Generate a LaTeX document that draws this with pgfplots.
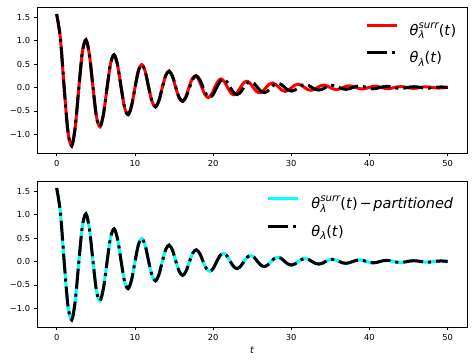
\documentclass[border=0pt]{standalone}
\usepackage{fontspec}
\setmainfont{DejaVu Sans}
\usepackage{pgfplots}
\usepackage{pgfplotstable}
\pgfplotsset{compat=1.18}
\definecolor{aqua}{RGB}{0,255,255}
\definecolor{pured}{RGB}{255,0,0}

\pgfplotstableread{
t y
0 1.571
0.48 1.049
0.96 0
1.44 -0.936
1.92 -1.25
2.38 -0.840
2.84 0
3.29 0.759
3.75 1.02
4.20 0.687
4.65 0
5.09 -0.623
5.54 -0.84
5.99 -0.567
6.45 0
6.90 0.518
7.35 0.70
7.80 0.472
8.25 0
8.69 -0.430
9.14 -0.58
9.58 -0.393
10.02 0
10.46 0.361
10.9 0.49
11.34 0.332
11.77 0
12.21 -0.305
12.64 -0.414
13.08 -0.281
13.51 0
13.95 0.258
14.38 0.350
14.82 0.237
15.25 0
15.69 -0.218
16.12 -0.296
16.56 -0.201
16.99 0
17.43 0.184
17.86 0.250
18.30 0.170
18.73 0
19.17 -0.156
19.6 -0.211
20.04 -0.143
20.47 0
20.91 0.131
21.34 0.178
21.78 0.121
22.21 0
22.65 -0.111
23.08 -0.151
23.52 -0.102
23.95 0
24.39 0.094
24.82 0.127
25.26 0.086
25.69 0
26.13 -0.079
26.56 -0.108
27.00 -0.073
27.43 0
27.87 0.067
28.3 0.091
28.74 0.062
29.17 0
29.61 -0.057
30.04 -0.077
30.48 -0.052
30.91 0
31.35 0.048
31.78 0.065
32.22 0.044
32.65 0
33.09 -0.040
33.52 -0.055
33.96 -0.037
34.39 0
34.83 0.034
35.26 0.046
35.70 0.031
36.13 0
36.57 -0.029
37.0 -0.039
37.44 -0.026
37.87 0
38.31 0.024
38.74 0.033
39.18 0.022
39.61 0
40.05 -0.021
40.48 -0.028
40.92 -0.019
41.35 0
41.79 0.017
42.22 0.024
42.66 0.016
43.09 0
43.53 -0.015
43.96 -0.020
44.40 -0.014
44.83 0
45.27 0.012
45.7 0.017
46.14 0.012
46.57 0
47.01 -0.011
47.44 -0.014
47.88 -0.009
48.31 0
48.75 0.009
49.18 0.012
49.62 0.008
50.0 0.001
}\truedata

\pgfplotstableread{
t y
0 1.571
0.48 1.049
0.96 0
1.44 -0.936
1.92 -1.25
2.38 -0.840
2.84 0
3.29 0.759
3.75 1.02
4.20 0.687
4.65 0
5.09 -0.623
5.54 -0.84
5.99 -0.567
6.45 0
6.90 0.518
7.35 0.70
7.80 0.472
8.25 0
8.69 -0.430
9.14 -0.58
9.58 -0.393
10.02 0
10.46 0.361
10.9 0.49
11.34 0.332
11.77 0
12.21 -0.305
12.64 -0.414
13.08 -0.281
13.51 0
13.95 0.258
14.38 0.350
14.805 0.238
15.23 0
15.655 -0.219
16.08 -0.296
16.50 -0.201
16.915 0
17.33 0.185
17.75 0.251
18.16 0.170
18.575 0
18.99 -0.157
19.40 -0.214
19.81 -0.145
20.22 0
20.63 0.134
21.04 0.183
21.45 0.124
21.86 0
22.27 -0.115
22.68 -0.156
23.09 -0.106
23.50 0
23.91 0.098
24.32 0.133
24.73 0.090
25.14 0
25.55 -0.083
25.96 -0.113
26.37 -0.077
26.78 0
27.19 0.071
27.60 0.097
28.01 0.066
28.42 0
28.83 -0.061
29.24 -0.083
29.65 -0.056
30.06 0
30.47 0.052
30.88 0.070
31.29 0.048
31.70 0
32.11 -0.044
32.52 -0.060
32.93 -0.041
33.34 0
33.75 0.038
34.16 0.051
34.57 0.035
34.98 0
35.39 -0.032
35.80 -0.044
36.21 -0.030
36.62 0
37.03 0.028
37.44 0.037
37.85 0.025
38.26 0
38.67 -0.023
39.08 -0.032
39.49 -0.022
39.90 0
40.31 0.020
40.72 0.027
41.13 0.018
41.54 0
41.95 -0.017
42.36 -0.023
42.77 -0.016
43.18 0
43.59 0.014
44.00 0.020
44.41 0.014
44.82 0
45.23 -0.013
45.64 -0.017
46.05 -0.012
46.46 0
46.87 0.011
47.28 0.015
47.69 0.010
48.10 0
48.51 -0.009
48.92 -0.012
49.33 -0.008
49.74 0
50.0 0.005
}\surrdata

\newcommand\scr{\fontsize{10.2}{10.2}\selectfont\itshape}
\newcommand\thsurr{\textit{θ}\makebox[0pt][l]{\raisebox{-0.25em}{\scr λ}}\raisebox{0.48em}{\scr surr}(\textit{t})}
\newcommand\thtrue{\textit{θ}\raisebox{-0.25em}{\scr λ}(\textit{t})}

\pgfplotsset{myax/.style={
  scale only axis, width=430.1pt, height=145.6pt,
  xmin=-2.5, xmax=52.5, ymin=-1.4, ymax=1.7125,
  xtick={0,10,20,30,40,50}, xticklabels={0,10,20,30,40,50},
  ytick={-1,-0.5,0,0.5,1,1.5}, yticklabels={−1.0,−0.5,0.0,0.5,1.0,1.5},
  tick align=outside, tick pos=left, major tick length=3.5pt,
  tick style={black, line width=0.7pt},
  axis line style={line width=0.8pt, black},
  ticklabel style={font=\fontsize{8.3}{10}\selectfont},
  legend cell align=left,
  legend image code/.code={\draw[##1] (0pt,6.5pt) -- (30pt,6.5pt); \path (41.7pt,0pt);},
  legend style={draw=none, fill=none, inner sep=0pt, outer sep=0pt,
    font=\fontsize{14.5}{16}\selectfont, row sep=12pt,
    nodes={inner sep=0pt, outer sep=0pt, text height=11pt, text depth=4pt},
    anchor=north west},
}}

\begin{document}
\begin{tikzpicture}
\useasboundingbox (0,0) rectangle (474pt,364pt);
\begin{axis}[myax, at={(37.1pt,211pt)}, anchor=south west,
  legend style={at={(rel axis cs:0.7624,0.887)}}]
\addplot[pured, line width=3pt, smooth] table {\surrdata};
\addplot[black, line width=3pt, smooth, line cap=butt, dash pattern=on 20pt off 5pt on 3pt off 5pt] table {\truedata};
\legend{\thsurr, \thtrue}
\end{axis}
\begin{axis}[myax, at={(37.1pt,37pt)}, anchor=south west,
  xlabel={\textit{t}}, xlabel style={font=\fontsize{9.5}{10}\selectfont, inner sep=0pt, yshift=-3pt},
  legend style={at={(rel axis cs:0.5338,0.891)}}]
\addplot[aqua, line width=3pt, smooth] table {\truedata};
\addplot[black, line width=3pt, smooth, line cap=butt, dash pattern=on 20pt off 5pt on 3pt off 5pt] table {\truedata};
\legend{\thsurr\hspace{0.12em}−\hspace{0.12em}\textit{partitioned}, \thtrue}
\end{axis}
\end{tikzpicture}
\end{document}
